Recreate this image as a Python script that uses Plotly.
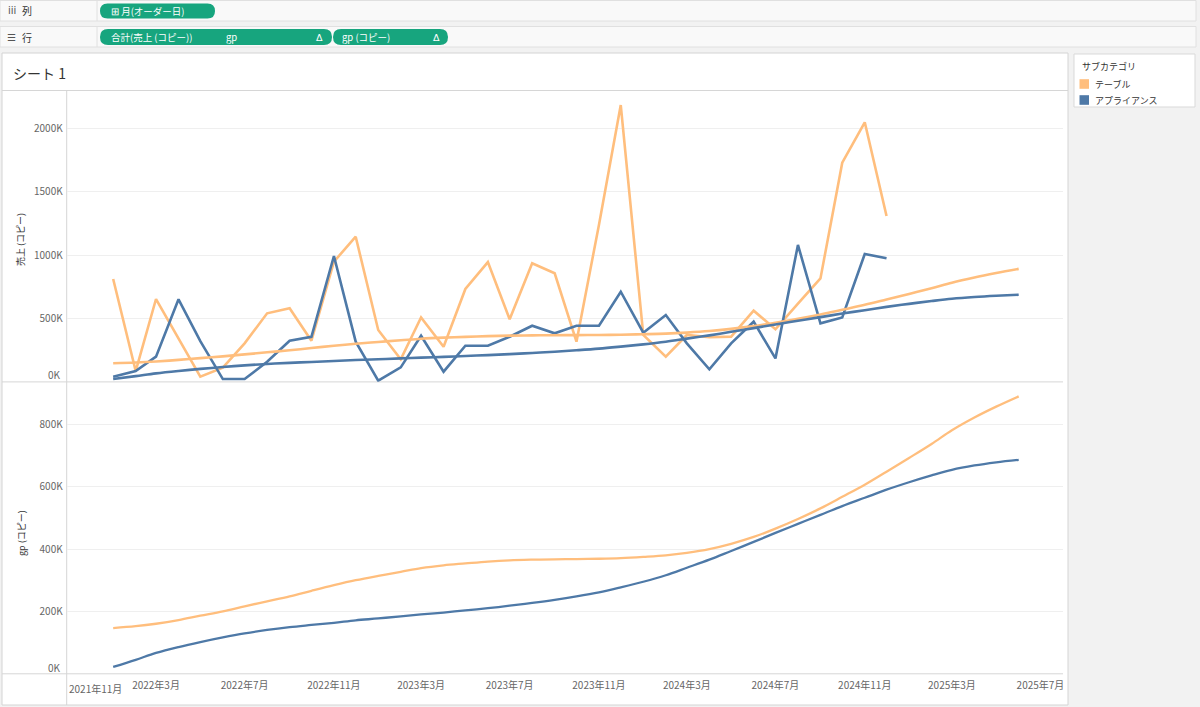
import pandas as pd
import plotly.graph_objects as go

# ---------------- data ----------------
sales_months = pd.date_range("2022-01-01", periods=36, freq="MS")
gp_months = pd.date_range("2022-01-01", periods=42, freq="MS")

table_sales = [811000, 84000, 653000, 346000, 40000, 111000, 303000, 540000, 580000, 324000,
               948000, 1145000, 408000, 177000, 508000, 276000, 732000, 945000, 493000, 935000,
               856000, 316000, 1240000, 2185000, 369000, 198000, 369000, 351000, 356000, 561000,
               414000, 616000, 816000, 1730000, 2049000, 1309000]
appliance_sales = [40000, 84000, 198000, 651000, 320000, 21000, 21000, 158000, 324000, 355000,
                   993000, 316000, 8000, 113000, 363000, 79000, 284000, 284000, 355000, 442000,
                   382000, 442000, 442000, 711000, 387000, 527000, 303000, 98000, 303000, 474000,
                   184000, 1080000, 461000, 508000, 1009000, 975000]

table_gp = [146000, 152000, 160000, 172000, 186000, 200000, 216000, 232000, 248000, 266000,
            284000, 300000, 314000, 327000, 339000, 348000, 354000, 360000, 364000, 366000,
            367000, 368000, 369000, 371000, 375000, 380000, 388000, 400000, 417000, 439000,
            466000, 497000, 531000, 568000, 607000, 649000, 693000, 738000, 782000, 823000,
            858000, 891000]
appliance_gp = [21000, 44000, 66000, 85000, 101000, 116000, 129000, 140000, 149000, 156000,
                163000, 171000, 177000, 184000, 190000, 196000, 203000, 210000, 218000, 227000,
                237000, 248000, 261000, 277000, 295000, 316000, 340000, 366000, 394000, 423000,
                452000, 481000, 510000, 538000, 565000, 591000, 615000, 637000, 655000, 669000,
                679000, 687000]

series_names = ["テーブル", "アプライアンス"]
series_colors = ["#FFBE7D", "#4E79A7"]

top_ticks = [500000, 1000000, 1500000, 2000000]
top_tick_labels = ["500K", "1000K", "1500K", "2000K"]
bot_ticks = [200000, 400000, 600000, 800000]
bot_tick_labels = ["200K", "400K", "600K", "800K"]
x_first_tick = "2021-11-01"
x_first_label = "2021年11月"
x_ticks = ["2022-03-01", "2022-07-01", "2022-11-01", "2023-03-01", "2023-07-01",
           "2023-11-01", "2024-03-01", "2024-07-01", "2024-11-01", "2025-03-01", "2025-07-01"]
x_tick_labels = ["2022年3月", "2022年7月", "2022年11月", "2023年3月", "2023年7月",
                 "2023年11月", "2024年3月", "2024年7月", "2024年11月", "2025年3月", "2025年7月"]

# ---------------- geometry helpers ----------------
W, H = 1200, 707
FONT = "Noto Sans CJK JP, Noto Sans, sans-serif"


def px(x):
    return x / W


def py(y):
    return 1 - y / H


PL, PR = 66.7, 1063
TOP_T, TOP_B = 90.5, 381.7
BOT_T, BOT_B = 382.7, 673.5

fig = go.Figure()

# sales lines (top pane)
for vals, name, col in zip([table_sales, appliance_sales], series_names, series_colors):
    fig.add_trace(go.Scatter(x=sales_months, y=vals, mode="lines", name=name,
                             line=dict(color=col, width=2.6), xaxis="x", yaxis="y",
                             showlegend=False))
# gp trend in top pane
for vals, name, col in zip([table_gp, appliance_gp], series_names, series_colors):
    fig.add_trace(go.Scatter(x=gp_months, y=vals, mode="lines", name=name,
                             line=dict(color=col, width=2.6, shape="spline", smoothing=1.0),
                             xaxis="x", yaxis="y", showlegend=False))
# gp (copy) in bottom pane
for vals, name, col in zip([table_gp, appliance_gp], series_names, series_colors):
    fig.add_trace(go.Scatter(x=gp_months, y=vals, mode="lines", name=name,
                             line=dict(color=col, width=2.3, shape="spline", smoothing=1.0),
                             xaxis="x2", yaxis="y2", showlegend=False))

xrange = ["2021-10-29", "2025-08-01"]
tickfont = dict(family=FONT, size=10, color="#666666")

fig.update_layout(
    width=W, height=H,
    margin=dict(l=0, r=0, t=0, b=0),
    paper_bgcolor="#f2f2f2",
    plot_bgcolor="rgba(0,0,0,0)",
    font=dict(family=FONT, color="#333333"),
    xaxis=dict(domain=[px(PL), px(PR)], range=xrange, anchor="y", showticklabels=False,
               showgrid=False, zeroline=False, showline=False, ticks=""),
    yaxis=dict(domain=[py(TOP_B), py(TOP_T)], range=[0, 2300000], anchor="x",
               tickvals=top_ticks, ticktext=top_tick_labels, tickfont=tickfont,
               showgrid=True, gridcolor="#efefef", gridwidth=1, zeroline=False,
               showline=False, ticks="", ticklabelstandoff=3),
    xaxis2=dict(domain=[px(PL), px(PR)], range=xrange, anchor="y2",
                tickvals=x_ticks, ticktext=x_tick_labels, tickfont=tickfont,
                showgrid=False, zeroline=False, showline=False, ticks="",
                ticklabelstandoff=4),
    yaxis2=dict(domain=[py(BOT_B), py(BOT_T)], range=[0, 935000], anchor="x2",
                tickvals=bot_ticks, ticktext=bot_tick_labels, tickfont=tickfont,
                showgrid=True, gridcolor="#efefef", gridwidth=1, zeroline=False,
                showline=False, ticks="", ticklabelstandoff=3),
)

shapes = []
ann = []


def rect(x0, y0, x1, y1, fill, line="#d9d9d9", lw=1, layer="below"):
    shapes.append(dict(type="rect", xref="paper", yref="paper", x0=px(x0), x1=px(x1),
                       y0=py(y1), y1=py(y0), fillcolor=fill,
                       line=dict(color=line, width=lw), layer=layer))


def hline(x0, x1, y, color="#d6d6d6", w=1):
    shapes.append(dict(type="line", xref="paper", yref="paper", x0=px(x0), x1=px(x1),
                       y0=py(y), y1=py(y), line=dict(color=color, width=w), layer="below"))


def vline(x, y0, y1, color="#d6d6d6", w=1):
    shapes.append(dict(type="line", xref="paper", yref="paper", x0=px(x), x1=px(x),
                       y0=py(y0), y1=py(y1), line=dict(color=color, width=w), layer="below"))


def pill(x0, x1, y0, y1, color="#17a57e"):
    r = (y1 - y0) / 2
    pts = [
        ("M", [(x0 + r, y0)]), ("L", [(x1 - r, y0)]), ("Q", [(x1, y0), (x1, y0 + r)]),
        ("Q", [(x1, y1), (x1 - r, y1)]), ("L", [(x0 + r, y1)]),
        ("Q", [(x0, y1), (x0, y0 + r)]), ("Q", [(x0, y0), (x0 + r, y0)]),
    ]
    path = ""
    for cmd, ps in pts:
        path += cmd + " " + " ".join(f"{px(a):.5f},{py(b):.5f}" for a, b in ps) + " "
    path += "Z"
    shapes.append(dict(type="path", xref="paper", yref="paper", path=path,
                       fillcolor=color, line=dict(width=0), layer="above"))


def text(x, y, s, size=10, color="#333333", xanchor="left", family=FONT, textangle=0):
    ann.append(dict(xref="paper", yref="paper", x=px(x), y=py(y), text=s, showarrow=False,
                    xanchor=xanchor, yanchor="middle", textangle=textangle,
                    font=dict(family=family, size=size, color=color)))


# shelves
rect(0, 0.5, 1196, 21, "#f9f9f9", "#e0e0e0")
rect(0, 26.5, 1196, 47, "#f9f9f9", "#e0e0e0")
vline(97, 0.5, 21, "#e0e0e0")
vline(97, 26.5, 47, "#e0e0e0")
text(6, 11, "iii", 10, "#555555", family="DejaVu Sans")
text(20, 11, "列", 10)
text(5, 37, "☰", 10, "#555555", family="DejaVu Sans")
text(20, 37, "行", 10)
pill(100, 215, 3.5, 18.5)
text(109, 11, "⊞ 月(オーダー日)", 9.5, "white")
pill(100, 332, 29, 45)
vline(216, 29, 45, "white")
pill(333, 448, 29, 45)
text(109, 37, "合計(売上 (コピー))", 9.5, "white")
text(224, 37, "gp", 9.5, "white")
text(319, 37, "Δ", 9.5, "white", xanchor="center", family="DejaVu Sans")
text(340, 37, "gp (コピー)", 9.5, "white")
text(436, 37, "Δ", 9.5, "white", xanchor="center", family="DejaVu Sans")

# sheet panel
rect(2, 53, 1068, 705, "white", "#d4d4d4")
text(11, 73, "シート 1", 14, "#333333")
hline(2, 1068, TOP_T)
hline(2, PR, 381.9)
hline(2, PR, BOT_B + 0.3)
vline(PL, TOP_T, 705)

# axis titles
text(21, 240, "売上 (コピー)", 9, "#333333", xanchor="center", textangle=-90)
text(21, 533, "gp (コピー)", 9, "#333333", xanchor="center", textangle=-90)

# zero labels (Tableau nudges them up into the pane)
ann.append(dict(xref="paper", yref="y", x=px(PL - 4), y=0, yshift=7, text="0K",
                showarrow=False, xanchor="right", yanchor="middle", font=tickfont))
ann.append(dict(xref="paper", yref="y2", x=px(PL - 4), y=0, yshift=6, text="0K",
                showarrow=False, xanchor="right", yanchor="middle", font=tickfont))
# first x label (Tableau keeps it inside the pane)
ann.append(dict(xref="paper", yref="y2", x=px(PL), y=0, yshift=-5, text=x_first_label,
                showarrow=False, xanchor="left", yanchor="top", font=tickfont))

# legend panel
rect(1074, 54, 1195, 107, "white", "#d9d9d9")
text(1080, 66, "サブカテゴリ", 9, "#333333")
for i, (name, col) in enumerate(zip(series_names, series_colors)):
    yc = 84 + 16 * i
    rect(1079.5, yc - 4.8, 1089, yc + 4.8, col, col, 0, layer="above")
    text(1093, yc, name, 9, "#333333")

fig.update_layout(shapes=shapes, annotations=ann)
fig.write_html("out.html")
